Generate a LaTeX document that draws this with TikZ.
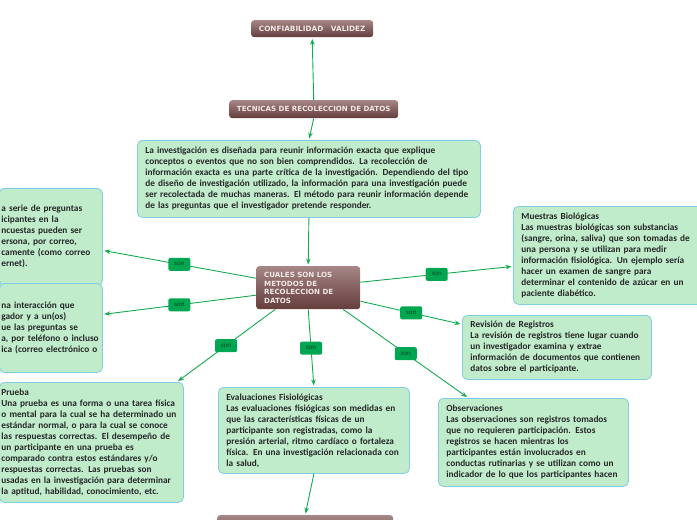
\documentclass[tikz,border=0pt]{standalone}
\usepackage{fontspec}
\setmainfont{Carlito}
\newfontfamily\capsfont{DejaVu Sans}
\usetikzlibrary{arrows.meta, positioning}
\definecolor{notefill}{RGB}{192, 236, 204}
\definecolor{noteline}{RGB}{128, 204, 224}
\definecolor{linkgreen}{RGB}{20, 170, 80}
\definecolor{sonfill}{RGB}{0, 166, 80}
\definecolor{sontext}{RGB}{8, 70, 35}
\definecolor{browntop}{RGB}{166, 134, 134}
\definecolor{brownbot}{RGB}{100, 60, 60}
\definecolor{browntext}{RGB}{242, 232, 232}

\begin{document}
\begin{tikzpicture}[x=1pt, y=-1pt,
  brownbox/.style={rounded corners=3pt, top color=browntop, bottom color=brownbot, text=browntext, font=\capsfont\bfseries\fontsize{7.1}{8.5}\selectfont, anchor=north west, inner sep=0pt},
  notebox/.style={draw=noteline, line width=0.8pt, fill=notefill, rounded corners=5pt, anchor=north west, align=left, inner xsep=8pt, inner ysep=3pt, font=\bfseries\fontsize{9.3}{11}\selectfont, text=black!85},
  cutbox/.style={notebox, inner xsep=2pt},
  sonlabel/.style={fill=sonfill, rounded corners=2pt, font=\fontsize{7}{7}\selectfont, text=sontext, minimum width=22pt, minimum height=13pt, inner sep=1pt},
  link/.style={draw=linkgreen, line width=0.9pt, -{Stealth[length=6pt, width=4.5pt]}, shorten >=1.5pt}]

  \useasboundingbox (0,0) rectangle (697,520);
  \clip (0,0) rectangle (697,520);

  % titles
  \node[brownbox, minimum width=122pt, minimum height=17pt, font=\capsfont\bfseries\fontsize{7.3}{8.5}\selectfont] (conf) at (251,20) {CONFIABILIDAD\ \ \ VALIDEZ};
  \node[brownbox, minimum width=169pt, minimum height=18pt] (tecnicas) at (229,100) {TECNICAS DE RECOLECCION DE DATOS};
  \node[notebox, text width=327pt, minimum height=77pt] (intro) at (137,140) {
    La investigación es diseñada para reunir información exacta que explique\\
    conceptos o eventos que no son bien comprendidos. La recolección de\\
    información exacta es una parte crítica de la investigación. Dependiendo del tipo\\
    de diseño de investigación utilizado, la información para una investigación puede\\
    ser recolectada de muchas maneras. El método para reunir información depende\\
    de las preguntas que el investigador pretende responder.};
  \node[brownbox, align=left, text width=88pt, inner xsep=8pt, minimum height=43pt] (cuales) at (256,266) {CUALES SON LOS\\METODOS DE\\RECOLECCION DE\\DATOS};

  % methods
  \node[cutbox, text width=99pt, minimum height=97pt] (encuesta) at (-1,188) {
    a serie de preguntas\\
    icipantes en la\\
    ncuestas pueden ser\\
    ersona, por correo,\\
    camente (como correo\\
    ernet).};
  \node[cutbox, text width=99pt, minimum height=89pt] (entrevista) at (-1,283) {
    na interacción que\\
    gador y a un(os)\\
    ue las preguntas se\\
    a, por teléfono o incluso\\
    ica (correo electrónico o};
  \node[cutbox, text width=180pt, minimum height=120pt] (prueba) at (-1,382) {
    Prueba\\
    Una prueba es una forma o una tarea física\\
    o mental para la cual se ha determinado un\\
    estándar normal, o para la cual se conoce\\
    las respuestas correctas. El desempeño de\\
    un participante en una prueba es\\
    comparado contra estos estándares y/o\\
    respuestas correctas. Las pruebas son\\
    usadas en la investigación para determinar\\
    la aptitud, habilidad, conocimiento, etc.};
  \node[notebox, text width=175pt, minimum height=86pt] (fisio) at (218,387) {
    Evaluaciones Fisiológicas\\
    Las evaluaciones fisiógicas son medidas en\\
    que las características físicas de un\\
    participante son registradas, como la\\
    presión arterial, ritmo cardíaco o fortaleza\\
    física. En una investigación relacionada con\\
    la salud,};
  \node[notebox, text width=184pt, minimum height=98pt] (muestras) at (513,206) {
    Muestras Biológicas\\
    Las muestras biológicas son substancias\\
    (sangre, orina, saliva) que son tomadas de\\
    una persona y se utilizan para medir\\
    información fisiológica. Un ejemplo sería\\
    hacer un examen de sangre para\\
    determinar el contenido de azúcar en un\\
    paciente diabético.};
  \node[notebox, text width=173pt, minimum height=64pt] (registros) at (462,315) {
    Revisión de Registros\\
    La revisión de registros tiene lugar cuando\\
    un investigador examina y extrae\\
    información de documentos que contienen\\
    datos sobre el participante.};
  \node[notebox, text width=174pt, minimum height=88pt] (observ) at (438,398) {
    Observaciones\\
    Las observaciones son registros tomados\\
    que no requieren participación. Estos\\
    registros se hacen mientras los\\
    participantes están involucrados en\\
    conductas rutinarias y se utilizan como un\\
    indicador de lo que los participantes hacen};
  \node[brownbox, minimum width=176pt, minimum height=30pt] (siguiente) at (217,515) {};

  % connectors
  \draw[link] (tecnicas.north) -- (conf.south);
  \draw[link] (tecnicas.south) -- (intro.north);
  \draw[link] (intro.south) -- (cuales.north);
  \draw[link] ([yshift=9.5pt]cuales.west) -- node[sonlabel] {son} ([yshift=-13.5pt]encuesta.east);
  \draw[link] ([yshift=-7.5pt]cuales.west) -- node[sonlabel] {son} ([yshift=13.5pt]entrevista.east);
  \draw[link] ([xshift=-33pt]cuales.south) -- node[sonlabel] {son} ([xshift=-7pt]prueba.north east);
  \draw[link] (cuales.south) -- node[sonlabel] {son} (fisio.north);
  \draw[link] ([xshift=35pt]cuales.south) -- node[sonlabel] {son} ([xshift=-65pt]observ.north);
  \draw[link] ([yshift=-13.5pt]cuales.east) -- node[sonlabel] {son} ([yshift=23pt]registros.west);
  \draw[link] ([yshift=5.5pt]cuales.east) -- node[sonlabel] {son} ([yshift=-11pt]muestras.west);
  \draw[link] (fisio.south) -- (siguiente.north);
\end{tikzpicture}
\end{document}
